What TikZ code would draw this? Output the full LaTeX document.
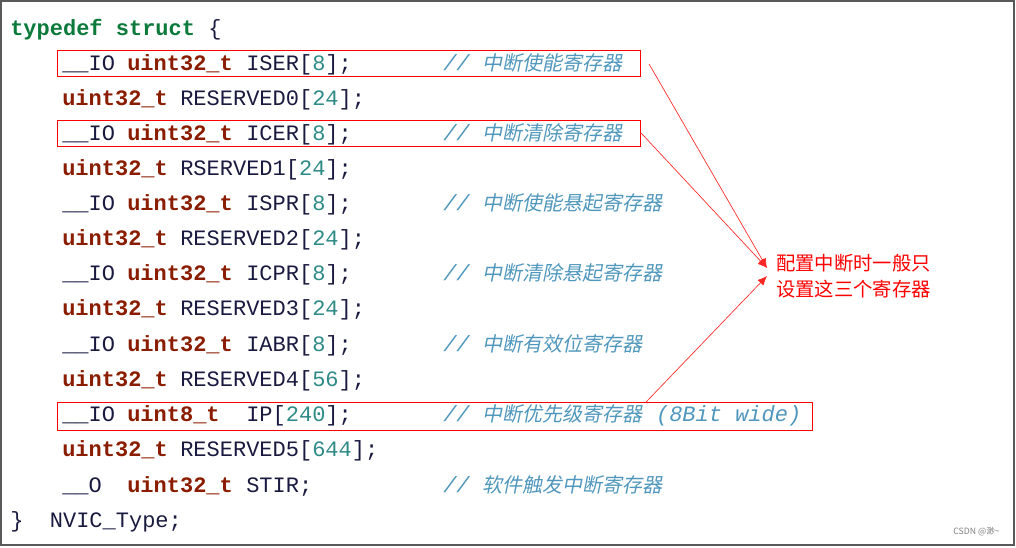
\documentclass[tikz,border=0pt]{standalone}
\usepackage{fontspec}
\usepackage{xcolor}
\usepackage{tikz}
\usetikzlibrary{arrows.meta}
\newfontfamily\codefont{Liberation Mono}
\newfontfamily\zhfont{Noto Sans CJK SC}
\newfontfamily\zhslant[AutoFakeSlant=0.2]{Noto Sans CJK SC}
\definecolor{kwgreen}{HTML}{0B7A3B}
\definecolor{typered}{HTML}{8A1C00}
\definecolor{numteal}{HTML}{2E8A86}
\definecolor{plain}{HTML}{1A1A40}
\definecolor{cmtblue}{HTML}{4F97BC}
\newcommand{\num}[1]{\textcolor{numteal}{#1}}
\newcommand{\zh}[1]{{\zhslant\fontsize{15}{15}\selectfont #1}}
\tikzset{
  code/.style={anchor=base west, inner sep=0pt, font=\codefont\fontsize{16.5}{16.5}\selectfont, text=plain},
  kw/.style={code, text=kwgreen, font=\codefont\bfseries\fontsize{16.5}{16.5}\selectfont},
  typ/.style={code, text=typered, font=\codefont\bfseries\fontsize{16.5}{16.5}\selectfont},
  cmt/.style={code, text=cmtblue, font=\codefont\itshape\fontsize{16.5}{16.5}\selectfont},
  regbox/.style={draw=red, line width=0.8pt, anchor=north west, inner sep=0pt},
  pointer/.style={red!85, line width=0.5pt, -{Latex[length=7pt,width=6pt]}}
}
\begin{document}
\begin{tikzpicture}[x=0.75pt,y=-0.75pt]
\useasboundingbox (0,0) rectangle (1016,547);
\draw[gray!70!black, line width=0.8pt] (1,1) rectangle (1014,545);

\node[kw] (head) at (10,35) {typedef struct};
\node[code] (brace) at (208,35) {\{};

% registers
\node[code] (p0) at (62,70) {\_\_IO};
\node[typ] at (127,70) {uint32\_t};
\node[code] at (246,70) {ISER[\num{8}];};
\node[cmt] at (443,70) {// \zh{中断使能寄存器}};

\node[typ] at (62,105) {uint32\_t};
\node[code] at (180,105) {RESERVED0[\num{24}];};

\node[code] (p2) at (62,140) {\_\_IO};
\node[typ] at (127,140) {uint32\_t};
\node[code] at (246,140) {ICER[\num{8}];};
\node[cmt] at (443,140) {// \zh{中断清除寄存器}};

\node[typ] at (62,175) {uint32\_t};
\node[code] at (180,175) {RSERVED1[\num{24}];};

\node[code] at (62,210) {\_\_IO};
\node[typ] at (127,210) {uint32\_t};
\node[code] at (246,210) {ISPR[\num{8}];};
\node[cmt] at (443,210) {// \zh{中断使能悬起寄存器}};

\node[typ] at (62,245) {uint32\_t};
\node[code] at (180,245) {RESERVED2[\num{24}];};

\node[code] at (62,280) {\_\_IO};
\node[typ] at (127,280) {uint32\_t};
\node[code] at (246,280) {ICPR[\num{8}];};
\node[cmt] at (443,280) {// \zh{中断清除悬起寄存器}};

\node[typ] at (62,315) {uint32\_t};
\node[code] at (180,315) {RESERVED3[\num{24}];};

\node[code] at (62,351) {\_\_IO};
\node[typ] at (127,351) {uint32\_t};
\node[code] at (246,351) {IABR[\num{8}];};
\node[cmt] at (443,351) {// \zh{中断有效位寄存器}};

\node[typ] at (62,386) {uint32\_t};
\node[code] at (180,386) {RESERVED4[\num{56}];};

\node[code] at (62,421) {\_\_IO};
\node[typ] at (127,421) {uint8\_t};
\node[code] at (246,421) {IP[\num{240}];};
\node[cmt] at (443,421) {// \zh{中断优先级寄存器} (8Bit wide)};

\node[typ] at (62,456) {uint32\_t};
\node[code] at (180,456) {RESERVED5[\num{644}];};

\node[code] at (62,492) {\_\_O};
\node[typ] at (127,492) {uint32\_t};
\node[code] at (246,492) {STIR;};
\node[cmt] at (443,492) {// \zh{软件触发中断寄存器}};

\node[code] (tail) at (10,527) {\}~~NVIC\_Type;};

% highlighted registers
\node[regbox, minimum width=583*0.75pt, minimum height=26*0.75pt] (iser) at (57,50) {};
\node[regbox, minimum width=583*0.75pt, minimum height=26*0.75pt] (icer) at (57,120) {};
\node[regbox, minimum width=755*0.75pt, minimum height=28*0.75pt] (ip) at (57,402) {};

\node[anchor=west, inner sep=0pt, align=left, text=red,
      font=\zhfont\fontsize{14.5}{19.5}\selectfont] (note) at (776,276)
      {配置中断时一般只\\设置这三个寄存器};
\coordinate (tipa) at (767,268);
\coordinate (tipb) at (767,276);
\draw[pointer] ([shift={(8,14)}]iser.north east) -- (tipa);
\draw[pointer] ([shift={(0,13)}]icer.north east) -- (tipa);
\draw[pointer] ([shift={(-167,0)}]ip.north east) -- (tipb);

\node[anchor=east, inner sep=0pt, text=gray, font=\zhfont\fontsize{6.5}{6.5}\selectfont] (mark) at (1000,532) {CSDN @渺\textasciitilde};
\end{tikzpicture}
\end{document}
